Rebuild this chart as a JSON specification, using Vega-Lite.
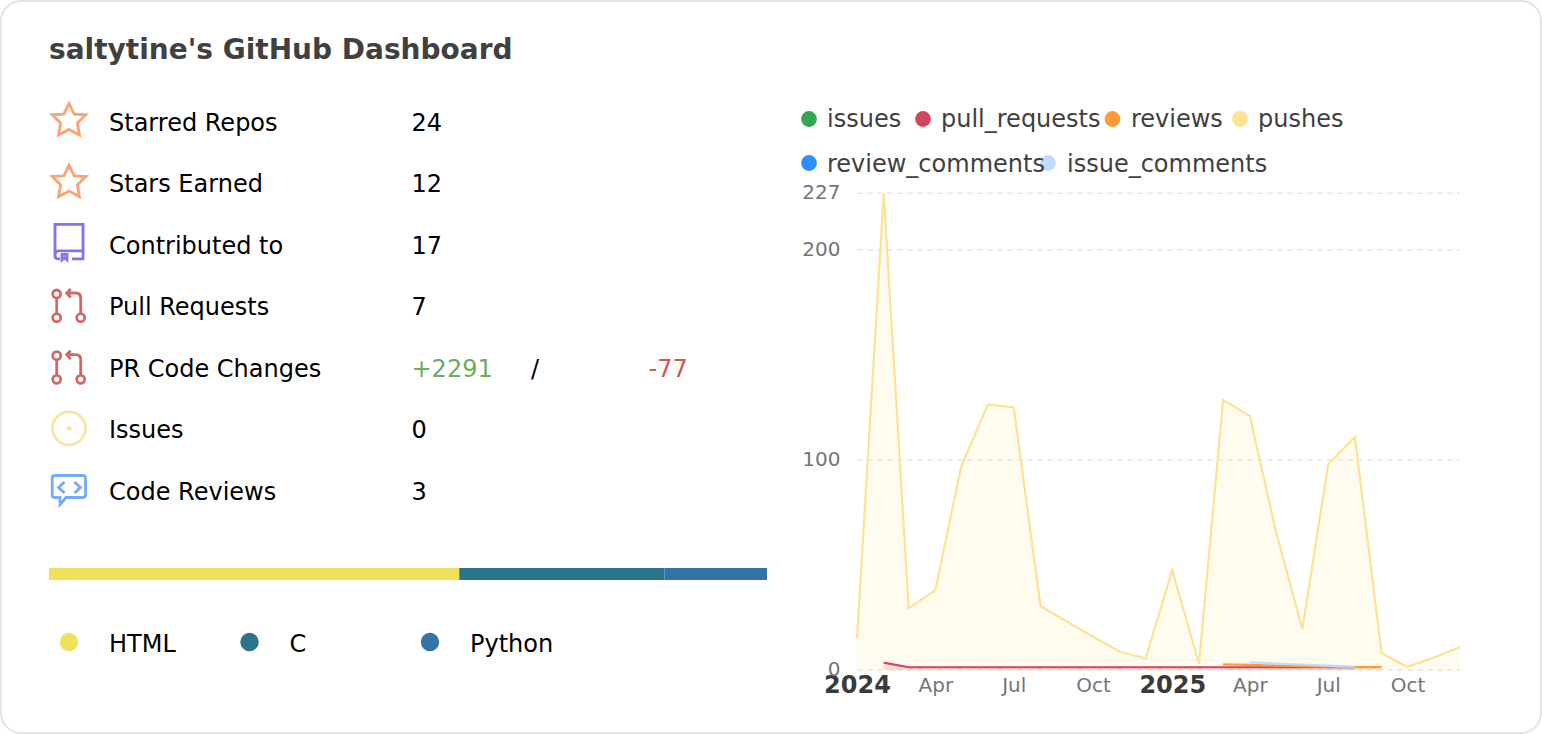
{
  "$schema": "https://vega.github.io/schema/vega-lite/v6.json",
  "description": "GitHub dashboard card: stats table, language bar and monthly activity areas.",
  "width": 1542,
  "height": 734,
  "padding": 0,
  "autosize": {"type": "none"},
  "background": "white",
  "config": {"font": "DejaVu Sans", "view": {"stroke": null}, "legend": {"disable": true}},
  "datasets": {
    "card": [{"name": "saltytine's GitHub Dashboard"}],
    "icons": [
      {"metric": "Starred Repos", "icon": "star"},
      {"metric": "Stars Earned", "icon": "star"},
      {"metric": "Contributed to", "icon": "repo"},
      {"metric": "Pull Requests", "icon": "pr"},
      {"metric": "PR Code Changes", "icon": "pr"},
      {"metric": "Issues", "icon": "issue"},
      {"metric": "Code Reviews", "icon": "review"}
    ],
    "cells": [
      {"metric": "Starred Repos", "col": 0, "text": "Starred Repos", "tone": "plain"},
      {"metric": "Starred Repos", "col": 1, "text": "24", "tone": "plain"},
      {"metric": "Stars Earned", "col": 0, "text": "Stars Earned", "tone": "plain"},
      {"metric": "Stars Earned", "col": 1, "text": "12", "tone": "plain"},
      {"metric": "Contributed to", "col": 0, "text": "Contributed to", "tone": "plain"},
      {"metric": "Contributed to", "col": 1, "text": "17", "tone": "plain"},
      {"metric": "Pull Requests", "col": 0, "text": "Pull Requests", "tone": "plain"},
      {"metric": "Pull Requests", "col": 1, "text": "7", "tone": "plain"},
      {"metric": "PR Code Changes", "col": 0, "text": "PR Code Changes", "tone": "plain"},
      {"metric": "PR Code Changes", "col": 1, "text": "+2291", "tone": "added"},
      {"metric": "PR Code Changes", "col": 2, "text": "/", "tone": "plain"},
      {"metric": "PR Code Changes", "col": 3, "text": "-77", "tone": "removed"},
      {"metric": "Issues", "col": 0, "text": "Issues", "tone": "plain"},
      {"metric": "Issues", "col": 1, "text": "0", "tone": "plain"},
      {"metric": "Code Reviews", "col": 0, "text": "Code Reviews", "tone": "plain"},
      {"metric": "Code Reviews", "col": 1, "text": "3", "tone": "plain"}
    ],
    "languages": [
      {"language": "HTML", "share": 57.14},
      {"language": "C", "share": 28.57},
      {"language": "Python", "share": 14.29}
    ],
    "gridlines": [{"value": 0}, {"value": 100}, {"value": 200}, {"value": 227}],
    "seriesKey": [
      {"series": "issues", "slot": 0},
      {"series": "pull_requests", "slot": 1},
      {"series": "reviews", "slot": 2},
      {"series": "pushes", "slot": 3},
      {"series": "review_comments", "slot": 4},
      {"series": "issue_comments", "slot": 5}
    ],
    "activity": [
      {"series": "pushes", "month": "2024-01-01", "count": 15},
      {"series": "pushes", "month": "2024-02-01", "count": 227},
      {"series": "pushes", "month": "2024-03-01", "count": 29.5},
      {"series": "pushes", "month": "2024-04-01", "count": 38},
      {"series": "pushes", "month": "2024-05-01", "count": 97},
      {"series": "pushes", "month": "2024-06-01", "count": 126.5},
      {"series": "pushes", "month": "2024-07-01", "count": 125},
      {"series": "pushes", "month": "2024-08-01", "count": 30.5},
      {"series": "pushes", "month": "2024-09-01", "count": 23},
      {"series": "pushes", "month": "2024-10-01", "count": 15.8},
      {"series": "pushes", "month": "2024-11-01", "count": 8.7},
      {"series": "pushes", "month": "2024-12-01", "count": 5.5},
      {"series": "pushes", "month": "2025-01-01", "count": 47.5},
      {"series": "pushes", "month": "2025-02-01", "count": 3},
      {"series": "pushes", "month": "2025-03-01", "count": 128.5},
      {"series": "pushes", "month": "2025-04-01", "count": 121},
      {"series": "pushes", "month": "2025-05-01", "count": 66.5},
      {"series": "pushes", "month": "2025-06-01", "count": 19.5},
      {"series": "pushes", "month": "2025-07-01", "count": 98},
      {"series": "pushes", "month": "2025-08-01", "count": 111},
      {"series": "pushes", "month": "2025-09-01", "count": 8},
      {"series": "pushes", "month": "2025-10-01", "count": 1.5},
      {"series": "pushes", "month": "2025-11-01", "count": 6},
      {"series": "pushes", "month": "2025-12-01", "count": 11},
      {"series": "pull_requests", "month": "2024-02-01", "count": 3.5},
      {"series": "pull_requests", "month": "2024-03-01", "count": 1.3},
      {"series": "pull_requests", "month": "2024-04-01", "count": 1.3},
      {"series": "pull_requests", "month": "2024-05-01", "count": 1.3},
      {"series": "pull_requests", "month": "2024-06-01", "count": 1.3},
      {"series": "pull_requests", "month": "2024-07-01", "count": 1.3},
      {"series": "pull_requests", "month": "2024-08-01", "count": 1.3},
      {"series": "pull_requests", "month": "2024-09-01", "count": 1.3},
      {"series": "pull_requests", "month": "2024-10-01", "count": 1.3},
      {"series": "pull_requests", "month": "2024-11-01", "count": 1.3},
      {"series": "pull_requests", "month": "2024-12-01", "count": 1.3},
      {"series": "pull_requests", "month": "2025-01-01", "count": 1.3},
      {"series": "pull_requests", "month": "2025-02-01", "count": 1.3},
      {"series": "pull_requests", "month": "2025-03-01", "count": 1.3},
      {"series": "pull_requests", "month": "2025-04-01", "count": 1.3},
      {"series": "pull_requests", "month": "2025-05-01", "count": 1.3},
      {"series": "pull_requests", "month": "2025-06-01", "count": 1.3},
      {"series": "pull_requests", "month": "2025-07-01", "count": 1.3},
      {"series": "pull_requests", "month": "2025-08-01", "count": 1.3},
      {"series": "reviews", "month": "2025-03-01", "count": 2.7},
      {"series": "reviews", "month": "2025-04-01", "count": 2.4},
      {"series": "reviews", "month": "2025-05-01", "count": 2.1},
      {"series": "reviews", "month": "2025-06-01", "count": 1.8},
      {"series": "reviews", "month": "2025-07-01", "count": 1.6},
      {"series": "reviews", "month": "2025-08-01", "count": 1.4},
      {"series": "reviews", "month": "2025-09-01", "count": 1.4},
      {"series": "issue_comments", "month": "2025-04-01", "count": 3.6},
      {"series": "issue_comments", "month": "2025-05-01", "count": 3.1},
      {"series": "issue_comments", "month": "2025-06-01", "count": 2.6},
      {"series": "issue_comments", "month": "2025-07-01", "count": 2.1},
      {"series": "issue_comments", "month": "2025-08-01", "count": 1.6}
    ]
  },
  "resolve": {
    "scale": {"x": "independent", "y": "independent", "color": "independent", "shape": "independent"},
    "axis": {"x": "independent", "y": "independent"}
  },
  "layer": [
    {
      "data": {"name": "card"},
      "mark": {"type": "rect", "cornerRadius": 20, "fill": "white", "stroke": "#e4e4e4", "strokeWidth": 2},
      "encoding": {
        "x": {"datum": 0, "type": "quantitative", "axis": null, "scale": {"domain": [0, 1], "range": [1, 1541]}},
        "x2": {"datum": 1},
        "y": {"datum": 0, "type": "quantitative", "axis": null, "scale": {"domain": [0, 1], "range": [1, 733]}},
        "y2": {"datum": 1}
      }
    },
    {
      "data": {"name": "card"},
      "mark": {"type": "text", "align": "left", "baseline": "middle", "fontSize": 28, "fontWeight": "bold", "color": "#404040"},
      "encoding": {
        "x": {"datum": 0, "type": "quantitative", "axis": null, "scale": {"domain": [0, 1], "range": [49, 50]}},
        "y": {"datum": 0, "type": "quantitative", "axis": null, "scale": {"domain": [0, 1], "range": [51, 52]}},
        "text": {"field": "name"}
      }
    },
    {
      "data": {"name": "cells"},
      "mark": {"type": "text", "align": "left", "baseline": "middle", "fontSize": 24},
      "encoding": {
        "x": {"field": "col", "type": "quantitative", "axis": null, "scale": {"domain": [0, 1, 2, 3], "range": [109, 411.5, 531, 648.5]}},
        "y": {"field": "metric", "type": "nominal", "axis": null, "scale": {"type": "point", "padding": 0, "domain": ["Starred Repos", "Stars Earned", "Contributed to", "Pull Requests", "PR Code Changes", "Issues", "Code Reviews"], "range": [123.5, 493]}},
        "color": {"field": "tone", "type": "nominal", "legend": null, "scale": {"domain": ["plain", "added", "removed"], "range": ["#000000", "#6cab60", "#d9534f"]}},
        "text": {"field": "text"}
      }
    },
    {
      "data": {"name": "icons"},
      "mark": {"type": "point", "size": 4, "filled": false, "strokeWidth": 2.8, "opacity": 0.95},
      "encoding": {
        "x": {"datum": 0, "type": "quantitative", "axis": null, "scale": {"domain": [0, 1], "range": [69, 70]}},
        "y": {"field": "metric", "type": "nominal", "axis": null, "scale": {"type": "point", "padding": 0, "domain": ["Starred Repos", "Stars Earned", "Contributed to", "Pull Requests", "PR Code Changes", "Issues", "Code Reviews"], "range": [122, 492]}},
        "color": {"field": "icon", "type": "nominal", "legend": null, "scale": {"domain": ["star", "repo", "pr", "issue", "review"], "range": ["#ff9e6a", "#7e6cf0", "#cf5f5f", "#f9e3a0", "#6ea6f8"]}},
        "shape": {"field": "icon", "type": "nominal", "legend": null, "scale": {"domain": ["star", "repo", "pr", "issue", "review"], "range": [
          "M0 -18.5 L5.2 -7.8 L16.8 -7.2 L8.4 1 L10.4 13 L0 7.4 L-10.4 13 L-8.4 1 L-16.8 -7.2 L-5.2 -7.8 Z",
          "M-14 11 V-21 H14 V13.5 H3 M-9 13.5 H-11 Q-14 13.5 -14 11 Q-14 5.5 -11 5.5 H14 M-7 9 V14.5 L-4.5 12.5 L-2 14.5 V9 Z",
          "M-8.3 -13 A4 4 0 1 1 -16.3 -13 A4 4 0 1 1 -8.3 -13 Z M-8.3 10.7 A4 4 0 1 1 -16.3 10.7 A4 4 0 1 1 -8.3 10.7 Z M15.7 10.7 A4 4 0 1 1 7.7 10.7 A4 4 0 1 1 15.7 10.7 Z M-12.3 -9 V6.7 M11.7 6.7 V-9 Q11.7 -14 6.7 -14 H-2 M1.7 -18 L-2.3 -14 L1.7 -9.5",
          "M16.5 -2 A16.5 16.5 0 1 1 -16.5 -2 A16.5 16.5 0 1 1 16.5 -2 Z M1.2 -2 A1.2 1.2 0 1 1 -1.2 -2 A1.2 1.2 0 1 1 1.2 -2 Z",
          "M-14 -16.5 H13.5 Q16.5 -16.5 16.5 -13.5 V3 Q16.5 5.5 13.5 5.5 H-3 L-9 12.5 V5.5 H-14 Q-16.8 5.5 -16.8 3 V-13.5 Q-16.8 -16.5 -14 -16.5 Z M-4.5 -10 L-10.5 -4.5 L-4.5 1 M5.5 -10 L11.5 -4.5 L5.5 1"
        ]}}
      }
    },
    {
      "data": {"name": "languages"},
      "transform": [{"stack": "share", "groupby": [], "sort": [{"field": "share", "order": "descending"}], "as": ["start", "end"]}],
      "mark": {"type": "rect"},
      "encoding": {
        "x": {"field": "start", "type": "quantitative", "axis": null, "scale": {"domain": [0, 100], "range": [49, 767], "nice": false, "zero": false}},
        "x2": {"field": "end"},
        "y": {"datum": 0, "type": "quantitative", "axis": null, "scale": {"domain": [0, 1], "range": [568, 580]}},
        "y2": {"datum": 1},
        "color": {"field": "language", "type": "nominal", "legend": null, "scale": {"domain": ["HTML", "C", "Python"], "range": ["#f1e05a", "#2b7489", "#3572a5"]}}
      }
    },
    {
      "data": {"name": "languages"},
      "mark": {"type": "circle", "size": 340, "opacity": 1},
      "encoding": {
        "x": {"field": "language", "type": "nominal", "axis": null, "scale": {"type": "point", "padding": 0, "domain": ["HTML", "C", "Python"], "range": [69, 430]}},
        "y": {"datum": 0, "type": "quantitative", "axis": null, "scale": {"domain": [0, 1], "range": [642, 643]}},
        "color": {"field": "language", "type": "nominal", "legend": null, "scale": {"domain": ["HTML", "C", "Python"], "range": ["#f1e05a", "#2b7489", "#3572a5"]}}
      }
    },
    {
      "data": {"name": "languages"},
      "mark": {"type": "text", "align": "left", "baseline": "middle", "fontSize": 24, "color": "#000000"},
      "encoding": {
        "x": {"field": "language", "type": "nominal", "axis": null, "scale": {"type": "point", "padding": 0, "domain": ["HTML", "C", "Python"], "range": [109, 470]}},
        "y": {"datum": 0, "type": "quantitative", "axis": null, "scale": {"domain": [0, 1], "range": [645, 646]}},
        "text": {"field": "language"}
      }
    },
    {
      "data": {"name": "seriesKey"},
      "mark": {"type": "circle", "size": 250, "opacity": 1},
      "encoding": {
        "x": {"field": "slot", "type": "quantitative", "axis": null, "scale": {"domain": [0, 1, 2, 3, 4, 5], "range": [809, 923, 1112.5, 1240, 809, 1048]}},
        "y": {"field": "slot", "type": "quantitative", "axis": null, "scale": {"domain": [0, 1, 2, 3, 4, 5], "range": [119, 119, 119, 119, 163, 163]}},
        "color": {"field": "series", "type": "nominal", "legend": null, "scale": {"domain": ["issues", "pull_requests", "reviews", "pushes", "review_comments", "issue_comments"], "range": ["#33a652", "#d2455f", "#ff9a35", "#fde293", "#2a8fff", "#bfdcff"]}}
      }
    },
    {
      "data": {"name": "seriesKey"},
      "mark": {"type": "text", "align": "left", "baseline": "middle", "fontSize": 24, "color": "#404040"},
      "encoding": {
        "x": {"field": "slot", "type": "quantitative", "axis": null, "scale": {"domain": [0, 1, 2, 3, 4, 5], "range": [827, 941, 1131, 1258, 827, 1067]}},
        "y": {"field": "slot", "type": "quantitative", "axis": null, "scale": {"domain": [0, 1, 2, 3, 4, 5], "range": [120, 120, 120, 120, 164.5, 164.5]}},
        "text": {"field": "series"}
      }
    },
    {
      "layer": [
        {
          "data": {"name": "gridlines"},
          "mark": {"type": "rule", "color": "#e8e8e8", "strokeWidth": 1.5, "strokeDash": [6, 4]},
          "encoding": {
            "x": {"datum": {"year": 2024, "month": 1, "date": 1}, "type": "temporal", "title": null, "scale": {"domain": [{"year": 2024, "month": 1, "date": 1}, {"year": 2025, "month": 12, "date": 1}], "range": [857, 1460]}},
            "x2": {"datum": {"year": 2025, "month": 12, "date": 1}},
            "y": {"field": "value", "type": "quantitative", "title": null, "scale": {"domain": [0, 227], "range": [670, 193.3], "nice": false}}
          }
        },
        {
          "data": {"name": "activity"},
          "mark": {"type": "area", "opacity": 0.15, "line": false},
          "encoding": {
            "x": {"field": "month", "type": "temporal", "title": null, "scale": {"domain": [{"year": 2024, "month": 1, "date": 1}, {"year": 2025, "month": 12, "date": 1}], "range": [857, 1460]}},
            "y": {"field": "count", "type": "quantitative", "stack": null, "title": null, "scale": {"domain": [0, 227], "range": [670, 193.3], "nice": false}},
            "color": {"field": "series", "type": "nominal", "legend": null, "scale": {"domain": ["issues", "pull_requests", "reviews", "pushes", "review_comments", "issue_comments"], "range": ["#33a652", "#d2455f", "#ff9a35", "#fde293", "#2a8fff", "#bfdcff"]}}
          }
        },
        {
          "data": {"name": "activity"},
          "mark": {"type": "line", "strokeWidth": 2.2},
          "encoding": {
            "x": {
              "field": "month", "type": "temporal", "title": null,
              "scale": {"domain": [{"year": 2024, "month": 1, "date": 1}, {"year": 2025, "month": 12, "date": 1}], "range": [857, 1460]},
              "axis": {
                "orient": "bottom", "offset": -64, "zindex": 1, "grid": false, "domain": false, "ticks": false,
                "tickCount": {"interval": "month", "step": 3},
                "labelExpr": "month(datum.value) == 0 ? year(datum.value) : timeFormat(datum.value, '%b')",
                "labelOverlap": false, "labelFlush": false, "labelBound": false, "labelPadding": 15, "labelBaseline": "middle",
                "labelFontSize": {"condition": {"test": "month(datum.value) == 0", "value": 24}, "value": 20},
                "labelFontWeight": {"condition": {"test": "month(datum.value) == 0", "value": "bold"}, "value": "normal"},
                "labelColor": {"condition": {"test": "month(datum.value) == 0", "value": "#3a3a3a"}, "value": "#757575"}
              }
            },
            "y": {
              "field": "count", "type": "quantitative", "stack": null, "title": null,
              "scale": {"domain": [0, 227], "range": [670, 193.3], "nice": false},
              "axis": {
                "orient": "left", "offset": -840, "zindex": 1, "grid": false, "domain": false, "ticks": false,
                "values": [0, 100, 200, 227], "labelPadding": 0, "labelFontSize": 20, "labelColor": "#757575",
                "labelOverlap": false, "labelFlush": false, "labelBound": false, "labelOffset": -1
              }
            },
            "color": {"field": "series", "type": "nominal", "legend": null, "scale": {"domain": ["issues", "pull_requests", "reviews", "pushes", "review_comments", "issue_comments"], "range": ["#33a652", "#d2455f", "#ff9a35", "#fde293", "#2a8fff", "#bfdcff"]}}
          }
        }
      ]
    }
  ]
}
